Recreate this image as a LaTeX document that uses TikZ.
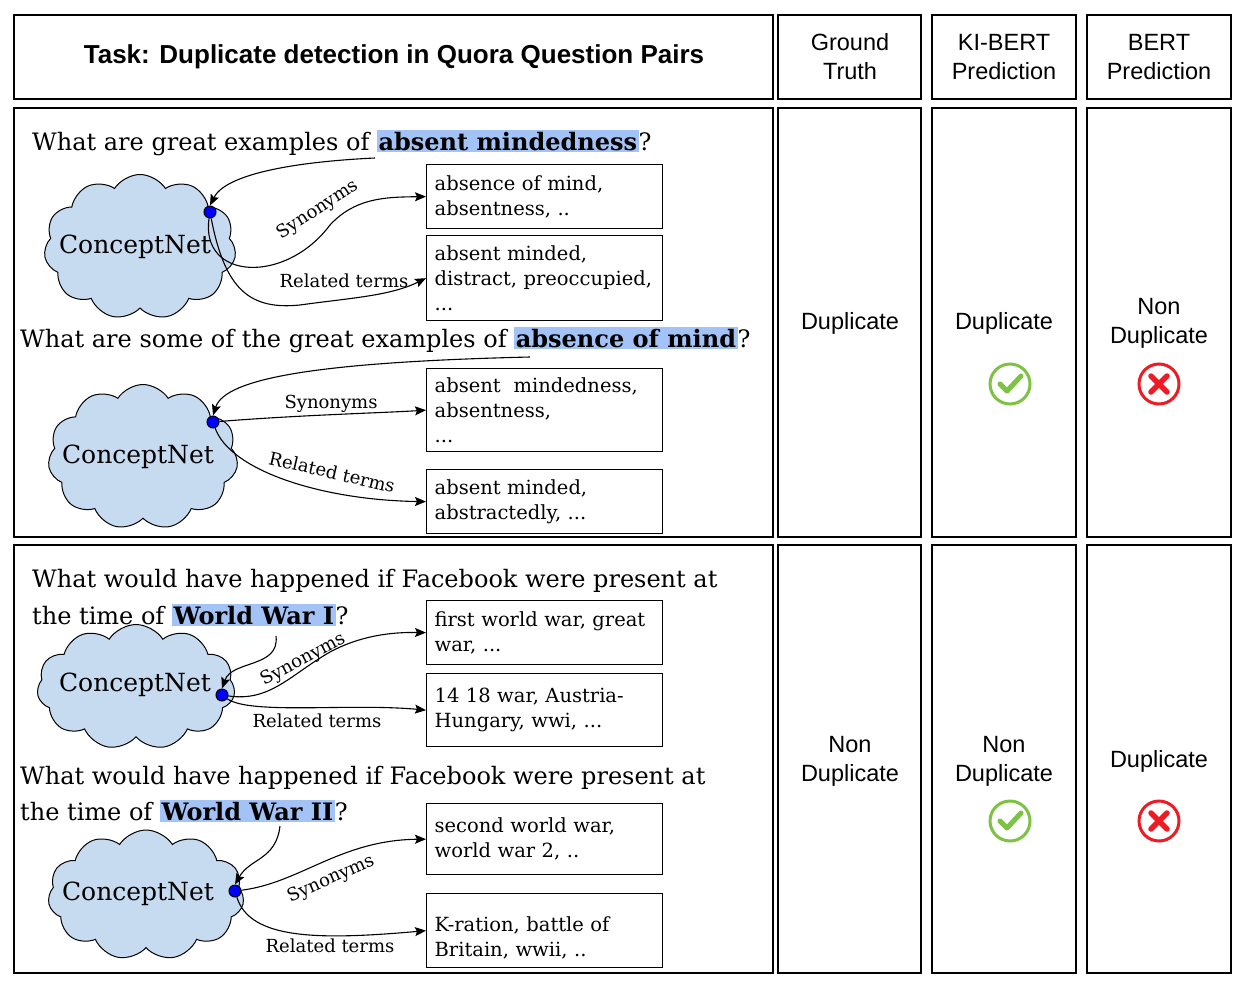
\documentclass[tikz,border=0pt]{standalone}
\usepackage{fontspec}
\setmainfont{DejaVu Serif}
\newfontfamily\sansf{Liberation Sans}
\usetikzlibrary{shapes.symbols,arrows.meta}
\definecolor{cloudc}{rgb}{0.78,0.86,0.94}
\definecolor{hlc}{rgb}{0.64,0.76,0.96}
\definecolor{okc}{HTML}{7DC242}
\definecolor{noc}{HTML}{ED1C24}
\newcommand{\hlt}[1]{{\setlength{\fboxsep}{1.5pt}\colorbox{hlc}{\bfseries #1}}}
\hyphenpenalty=10000
\exhyphenpenalty=10000
\begin{document}
\begin{tikzpicture}[x=1pt,y=-1pt,
  frame/.style={draw,line width=1.3pt},
  col/.style={font=\sansf\fontsize{23.5}{29}\selectfont,align=center},
  sent/.style={anchor=base west,inner sep=0pt,font=\fontsize{24}{27}\selectfont},
  tbox/.style={draw,line width=1.3pt,anchor=north west,minimum width=234pt,align=left,text width=220pt,inner xsep=8pt,inner ysep=3pt,font=\fontsize{19.5}{25}\selectfont},
  cn/.style={cloud,cloud puffs=11,cloud puff arc=115,draw,fill=cloudc,line width=1pt,inner sep=0pt},
  cnt/.style={font=\fontsize{25}{28}\selectfont,inner sep=0pt},
  dot/.style={circle,fill=blue,draw,line width=1pt,minimum size=12pt,inner sep=0pt},
  con/.style={line width=1.1pt,-{Stealth[length=11pt,width=9pt,inset=2pt]}},
  lab/.style={font=\fontsize{18}{20}\selectfont,inner sep=0pt},
  ok/.style={circle,draw=okc,line width=3pt,minimum size=40pt},
  no/.style={circle,draw=noc,line width=3pt,minimum size=40pt}]
\useasboundingbox (0,0) rectangle (1248,988);
% header
\draw[frame] (14,15) rectangle (773,99);
\draw[frame] (778,15) rectangle (921,99);
\draw[frame] (932,15) rectangle (1076,99);
\draw[frame] (1087,15) rectangle (1231,99);
\node[col,font=\sansf\bfseries\fontsize{26}{30}\selectfont] (title) at (394,57) {Task: Duplicate detection in Quora Question Pairs};
\node[col] (gt) at (850,57) {Ground\\Truth};
\node[col] (ki) at (1004,57) {KI-BERT\\Prediction};
\node[col] (bp) at (1159,57) {BERT\\Prediction};
% panels
\foreach \a/\b in {108/537,545/973}{
\draw[frame] (14,\a) rectangle (773,\b);
\draw[frame] (778,\a) rectangle (921,\b);
\draw[frame] (932,\a) rectangle (1076,\b);
\draw[frame] (1087,\a) rectangle (1231,\b);}
\node[col] (g1) at (850,323) {Duplicate};
\node[col] (k1) at (1004,323) {Duplicate};
\node[col] (b1) at (1159,323) {Non\\Duplicate};
\node[col] (g2) at (850,761) {Non\\Duplicate};
\node[col] (k2) at (1004,761) {Non\\Duplicate};
\node[col] (b2) at (1159,761) {Duplicate};
% icons
\foreach \n/\y in {c1/384,c2/821}{
\node[ok] (\n) at (1010,\y) {};
\draw[okc,line width=5pt,line cap=round,line join=round] (1000,\y) -- (1007,\y+7) -- (1021,\y-8);}
\foreach \n/\y in {x1/384,x2/821}{
\node[no] (\n) at (1159,\y) {};
\draw[noc,line width=5.5pt,line cap=round] (1151,\y-8) -- (1167,\y+8) (1151,\y+8) -- (1167,\y-8);}
% sentences
\node[sent] (s1) at (32,150) {What are great examples of \hlt{absent mindedness}?};
\node[sent] (s2) at (20,347) {What are some of the great examples of \hlt{absence of mind}?};
\node[sent] (s3) at (32,587) {What would have happened if Facebook were present at};
\node[sent] (s3b) at (32,624) {the time of \hlt{World War I}?};
\node[sent] (s4) at (20,784) {What would have happened if Facebook were present at};
\node[sent] (s4b) at (20,820) {the time of \hlt{World War II}?};
% boxes
\node[tbox,minimum height=64pt] (b11) at (426,164) {absence of mind,\\absentness, ..};
\node[tbox,minimum height=85pt] (b12) at (426,235) {absent minded,\\distract, preoccupied,\\...};
\node[tbox,minimum height=83pt] (b21) at (426,368) {absent\ \ mindedness,\\absentness,\\...};
\node[tbox,minimum height=64pt] (b22) at (426,469) {absent minded,\\abstractedly, ...};
\node[tbox,minimum height=64pt] (b31) at (426,600) {first world war, great\\war, ...};
\node[tbox,minimum height=73pt] (b32) at (426,673) {14 18 war, Austria-\\Hungary, wwi, ...};
\node[tbox,minimum height=71pt] (b41) at (426,803) {second world war,\\world war 2, ..};
\node[tbox,minimum height=74pt] (b42) at (426,893) {\strut\\[-14pt]K-ration, battle of\\Britain, wwii, ..};
% clouds
\node[cn,minimum width=192pt,minimum height=145pt] (cl1) at (140,247) {};
\node[cn,minimum width=190pt,minimum height=145pt] (cl2) at (143,457) {};
\node[cn,minimum width=198pt,minimum height=125pt] (cl3) at (136,687) {};
\node[cn,minimum width=196pt,minimum height=130pt] (cl4) at (146,895) {};
\node[cnt] (t1) at (135,247) {ConceptNet};
\node[cnt] (t2) at (138,457) {ConceptNet};
\node[cnt] (t3) at (135,685) {ConceptNet};
\node[cnt] (t4) at (138,894) {ConceptNet};
\node[dot] (d1) at (210,212) {};
\node[dot] (d2) at (213,422) {};
\node[dot] (d3) at (222,695) {};
\node[dot] (d4) at (235,891) {};
\coordinate (i1) at (375,158);
\coordinate (i2) at (530,357);
\coordinate (i3) at (276,636);
\coordinate (i4) at (280,826);
% connectors
\draw[con] (i1) .. controls (290,162) and (225,175) .. (d1.north);
\draw[con] (d1) .. controls (200,280) and (285,285) .. (330,225) .. controls (355,198) and (385,197) .. (b11.west);
\draw[con] (d1) .. controls (225,290) and (250,310) .. (300,305) .. controls (350,298) and (390,296) .. (b12.west);
\node[lab,rotate=33] (l1) at (318,210) {Synonyms};
\node[lab] (l2) at (344,281) {Related terms};
\draw[con] (i2) .. controls (320,362) and (225,378) .. (d2.north);
\draw[con] (d2) .. controls (300,415) and (380,413) .. (b21.west);
\draw[con] (d2) .. controls (230,470) and (320,500) .. (b22.west);
\node[lab] (l3) at (331,404) {Synonyms};
\node[lab,rotate=-13] (l4) at (332,472) {Related terms};
\draw[con] (i3) .. controls (280,668) and (232,660) .. (d3.north);
\draw[con] (d3) .. controls (270,702) and (290,675) .. (330,652) .. controls (360,636) and (390,632) .. (b31.west);
\draw[con] (d3) .. controls (250,715) and (350,703) .. (b32.west);
\node[lab,rotate=28] (l5) at (303,660) {Synonyms};
\node[lab] (l6) at (317,721) {Related terms};
\draw[con] (i4) .. controls (276,860) and (250,858) .. (d4.north);
\draw[con] (d4) .. controls (300,883) and (340,840) .. (b41.west);
\draw[con] (d4) .. controls (250,940) and (320,940) .. (b42.west);
\node[lab,rotate=24] (l7) at (331,879) {Synonyms};
\node[lab] (l8) at (330,946) {Related terms};
\end{tikzpicture}
\end{document}
